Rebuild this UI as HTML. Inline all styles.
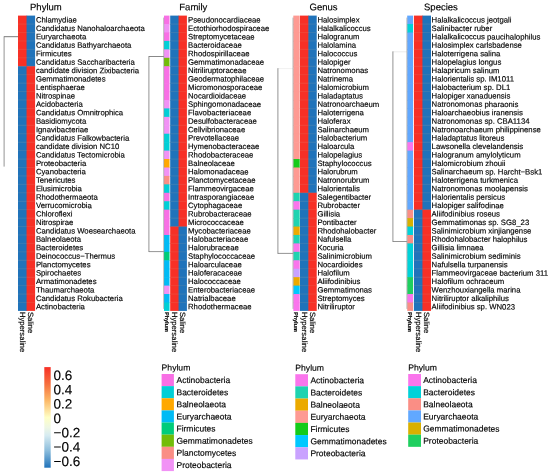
<!DOCTYPE html>
<html><head><meta charset="utf-8"><title>Heatmap</title>
<style>
html,body{margin:0;padding:0;background:#fff}
svg{display:block;font-family:"Liberation Sans",Arial,Helvetica,sans-serif;fill:#000}
text{stroke:#000;stroke-width:0.15px;text-rendering:geometricPrecision}
</style></head><body>
<svg width="550" height="473" viewBox="0 0 550 473">
<defs><linearGradient id="g" x1="0" y1="0" x2="0" y2="1">
<stop offset="0" stop-color="#F73026"/><stop offset="0.17" stop-color="#F6703E"/><stop offset="0.33" stop-color="#FCB866"/><stop offset="0.5" stop-color="#FFFFC6"/><stop offset="0.6" stop-color="#EEF7E4"/><stop offset="0.68" stop-color="#D6EBF1"/><stop offset="0.83" stop-color="#8CBDDC"/><stop offset="1" stop-color="#2073BA"/>
</linearGradient></defs>
<rect x="0" y="0" width="550" height="473" fill="#fff"/>
<text transform="translate(30.00 10.20) rotate(0.04)" font-size="9.52" >Phylum</text>
<rect x="18.00" y="15.60" width="9.15" height="9.04" fill="#F73026"/>
<rect x="26.55" y="15.60" width="8.55" height="9.04" fill="#2073BA"/>
<text transform="translate(35.90 22.47) rotate(0.04)" font-size="7.74" >Chlamydiae</text>
<rect x="18.00" y="24.04" width="9.15" height="9.04" fill="#F73026"/>
<rect x="26.55" y="24.04" width="8.55" height="9.04" fill="#2073BA"/>
<text transform="translate(35.90 30.91) rotate(0.04)" font-size="7.74" >Candidatus Nanohaloarchaeota</text>
<rect x="18.00" y="32.47" width="9.15" height="9.04" fill="#F73026"/>
<rect x="26.55" y="32.47" width="8.55" height="9.04" fill="#2073BA"/>
<text transform="translate(35.90 39.34) rotate(0.04)" font-size="7.74" >Euryarchaeota</text>
<rect x="18.00" y="40.91" width="9.15" height="9.04" fill="#F73026"/>
<rect x="26.55" y="40.91" width="8.55" height="9.04" fill="#2073BA"/>
<text transform="translate(35.90 47.78) rotate(0.04)" font-size="7.74" >Candidatus Bathyarchaeota</text>
<rect x="18.00" y="49.35" width="9.15" height="9.04" fill="#F73026"/>
<rect x="26.55" y="49.35" width="8.55" height="9.04" fill="#2073BA"/>
<text transform="translate(35.90 56.22) rotate(0.04)" font-size="7.74" >Firmicutes</text>
<rect x="18.00" y="57.79" width="9.15" height="9.04" fill="#F73026"/>
<rect x="26.55" y="57.79" width="8.55" height="9.04" fill="#2073BA"/>
<text transform="translate(35.90 64.65) rotate(0.04)" font-size="7.74" >Candidatus Saccharibacteria</text>
<rect x="18.00" y="66.22" width="9.15" height="9.04" fill="#2073BA"/>
<rect x="26.55" y="66.22" width="8.55" height="9.04" fill="#F73026"/>
<text transform="translate(35.90 73.09) rotate(0.04)" font-size="7.74" >candidate division Zixibacteria</text>
<rect x="18.00" y="74.66" width="9.15" height="9.04" fill="#2073BA"/>
<rect x="26.55" y="74.66" width="8.55" height="9.04" fill="#F73026"/>
<text transform="translate(35.90 81.53) rotate(0.04)" font-size="7.74" >Gemmatimonadetes</text>
<rect x="18.00" y="83.10" width="9.15" height="9.04" fill="#2073BA"/>
<rect x="26.55" y="83.10" width="8.55" height="9.04" fill="#F73026"/>
<text transform="translate(35.90 89.97) rotate(0.04)" font-size="7.74" >Lentisphaerae</text>
<rect x="18.00" y="91.53" width="9.15" height="9.04" fill="#2073BA"/>
<rect x="26.55" y="91.53" width="8.55" height="9.04" fill="#F73026"/>
<text transform="translate(35.90 98.40) rotate(0.04)" font-size="7.74" >Nitrospinae</text>
<rect x="18.00" y="99.97" width="9.15" height="9.04" fill="#2073BA"/>
<rect x="26.55" y="99.97" width="8.55" height="9.04" fill="#F73026"/>
<text transform="translate(35.90 106.84) rotate(0.04)" font-size="7.74" >Acidobacteria</text>
<rect x="18.00" y="108.41" width="9.15" height="9.04" fill="#2073BA"/>
<rect x="26.55" y="108.41" width="8.55" height="9.04" fill="#F73026"/>
<text transform="translate(35.90 115.28) rotate(0.04)" font-size="7.74" >Candidatus Omnitrophica</text>
<rect x="18.00" y="116.85" width="9.15" height="9.04" fill="#2073BA"/>
<rect x="26.55" y="116.85" width="8.55" height="9.04" fill="#F73026"/>
<text transform="translate(35.90 123.71) rotate(0.04)" font-size="7.74" >Basidiomycota</text>
<rect x="18.00" y="125.28" width="9.15" height="9.04" fill="#2073BA"/>
<rect x="26.55" y="125.28" width="8.55" height="9.04" fill="#F73026"/>
<text transform="translate(35.90 132.15) rotate(0.04)" font-size="7.74" >Ignavibacteriae</text>
<rect x="18.00" y="133.72" width="9.15" height="9.04" fill="#2073BA"/>
<rect x="26.55" y="133.72" width="8.55" height="9.04" fill="#F73026"/>
<text transform="translate(35.90 140.59) rotate(0.04)" font-size="7.74" >Candidatus Falkowbacteria</text>
<rect x="18.00" y="142.16" width="9.15" height="9.04" fill="#2073BA"/>
<rect x="26.55" y="142.16" width="8.55" height="9.04" fill="#F73026"/>
<text transform="translate(35.90 149.03) rotate(0.04)" font-size="7.74" >candidate division NC10</text>
<rect x="18.00" y="150.59" width="9.15" height="9.04" fill="#2073BA"/>
<rect x="26.55" y="150.59" width="8.55" height="9.04" fill="#F73026"/>
<text transform="translate(35.90 157.46) rotate(0.04)" font-size="7.74" >Candidatus Tectomicrobia</text>
<rect x="18.00" y="159.03" width="9.15" height="9.04" fill="#2073BA"/>
<rect x="26.55" y="159.03" width="8.55" height="9.04" fill="#F73026"/>
<text transform="translate(35.90 165.90) rotate(0.04)" font-size="7.74" >Proteobacteria</text>
<rect x="18.00" y="167.47" width="9.15" height="9.04" fill="#2073BA"/>
<rect x="26.55" y="167.47" width="8.55" height="9.04" fill="#F73026"/>
<text transform="translate(35.90 174.34) rotate(0.04)" font-size="7.74" >Cyanobacteria</text>
<rect x="18.00" y="175.91" width="9.15" height="9.04" fill="#2073BA"/>
<rect x="26.55" y="175.91" width="8.55" height="9.04" fill="#F73026"/>
<text transform="translate(35.90 182.77) rotate(0.04)" font-size="7.74" >Tenericutes</text>
<rect x="18.00" y="184.34" width="9.15" height="9.04" fill="#2073BA"/>
<rect x="26.55" y="184.34" width="8.55" height="9.04" fill="#F73026"/>
<text transform="translate(35.90 191.21) rotate(0.04)" font-size="7.74" >Elusimicrobia</text>
<rect x="18.00" y="192.78" width="9.15" height="9.04" fill="#2073BA"/>
<rect x="26.55" y="192.78" width="8.55" height="9.04" fill="#F73026"/>
<text transform="translate(35.90 199.65) rotate(0.04)" font-size="7.74" >Rhodothermaeota</text>
<rect x="18.00" y="201.22" width="9.15" height="9.04" fill="#2073BA"/>
<rect x="26.55" y="201.22" width="8.55" height="9.04" fill="#F73026"/>
<text transform="translate(35.90 208.09) rotate(0.04)" font-size="7.74" >Verrucomicrobia</text>
<rect x="18.00" y="209.65" width="9.15" height="9.04" fill="#2073BA"/>
<rect x="26.55" y="209.65" width="8.55" height="9.04" fill="#F73026"/>
<text transform="translate(35.90 216.52) rotate(0.04)" font-size="7.74" >Chloroflexi</text>
<rect x="18.00" y="218.09" width="9.15" height="9.04" fill="#2073BA"/>
<rect x="26.55" y="218.09" width="8.55" height="9.04" fill="#F73026"/>
<text transform="translate(35.90 224.96) rotate(0.04)" font-size="7.74" >Nitrospirae</text>
<rect x="18.00" y="226.53" width="9.15" height="9.04" fill="#2073BA"/>
<rect x="26.55" y="226.53" width="8.55" height="9.04" fill="#F73026"/>
<text transform="translate(35.90 233.40) rotate(0.04)" font-size="7.74" >Candidatus Woesearchaeota</text>
<rect x="18.00" y="234.97" width="9.15" height="9.04" fill="#2073BA"/>
<rect x="26.55" y="234.97" width="8.55" height="9.04" fill="#F73026"/>
<text transform="translate(35.90 241.83) rotate(0.04)" font-size="7.74" >Balneolaeota</text>
<rect x="18.00" y="243.40" width="9.15" height="9.04" fill="#2073BA"/>
<rect x="26.55" y="243.40" width="8.55" height="9.04" fill="#F73026"/>
<text transform="translate(35.90 250.27) rotate(0.04)" font-size="7.74" >Bacteroidetes</text>
<rect x="18.00" y="251.84" width="9.15" height="9.04" fill="#2073BA"/>
<rect x="26.55" y="251.84" width="8.55" height="9.04" fill="#F73026"/>
<text transform="translate(35.90 258.71) rotate(0.04)" font-size="7.74" >Deinococcus−Thermus</text>
<rect x="18.00" y="260.28" width="9.15" height="9.04" fill="#2073BA"/>
<rect x="26.55" y="260.28" width="8.55" height="9.04" fill="#F73026"/>
<text transform="translate(35.90 267.15) rotate(0.04)" font-size="7.74" >Planctomycetes</text>
<rect x="18.00" y="268.71" width="9.15" height="9.04" fill="#2073BA"/>
<rect x="26.55" y="268.71" width="8.55" height="9.04" fill="#F73026"/>
<text transform="translate(35.90 275.58) rotate(0.04)" font-size="7.74" >Spirochaetes</text>
<rect x="18.00" y="277.15" width="9.15" height="9.04" fill="#2073BA"/>
<rect x="26.55" y="277.15" width="8.55" height="9.04" fill="#F73026"/>
<text transform="translate(35.90 284.02) rotate(0.04)" font-size="7.74" >Armatimonadetes</text>
<rect x="18.00" y="285.59" width="9.15" height="9.04" fill="#2073BA"/>
<rect x="26.55" y="285.59" width="8.55" height="9.04" fill="#F73026"/>
<text transform="translate(35.90 292.46) rotate(0.04)" font-size="7.74" >Thaumarchaeota</text>
<rect x="18.00" y="294.03" width="9.15" height="9.04" fill="#2073BA"/>
<rect x="26.55" y="294.03" width="8.55" height="9.04" fill="#F73026"/>
<text transform="translate(35.90 300.89) rotate(0.04)" font-size="7.74" >Candidatus Rokubacteria</text>
<rect x="18.00" y="302.46" width="9.15" height="8.44" fill="#2073BA"/>
<rect x="26.55" y="302.46" width="8.55" height="8.44" fill="#F73026"/>
<text transform="translate(35.90 309.33) rotate(0.04)" font-size="7.74" >Actinobacteria</text>
<path d="M18.00 24.04h17.10" stroke="#c9b796" stroke-opacity="0.3" stroke-width="0.5" fill="none"/>
<path d="M18.00 32.47h17.10" stroke="#c9b796" stroke-opacity="0.3" stroke-width="0.5" fill="none"/>
<path d="M18.00 40.91h17.10" stroke="#c9b796" stroke-opacity="0.3" stroke-width="0.5" fill="none"/>
<path d="M18.00 49.35h17.10" stroke="#c9b796" stroke-opacity="0.3" stroke-width="0.5" fill="none"/>
<path d="M18.00 57.79h17.10" stroke="#c9b796" stroke-opacity="0.3" stroke-width="0.5" fill="none"/>
<path d="M18.00 66.22h17.10" stroke="#c9b796" stroke-opacity="0.3" stroke-width="0.5" fill="none"/>
<path d="M18.00 74.66h17.10" stroke="#c9b796" stroke-opacity="0.3" stroke-width="0.5" fill="none"/>
<path d="M18.00 83.10h17.10" stroke="#c9b796" stroke-opacity="0.3" stroke-width="0.5" fill="none"/>
<path d="M18.00 91.53h17.10" stroke="#c9b796" stroke-opacity="0.3" stroke-width="0.5" fill="none"/>
<path d="M18.00 99.97h17.10" stroke="#c9b796" stroke-opacity="0.3" stroke-width="0.5" fill="none"/>
<path d="M18.00 108.41h17.10" stroke="#c9b796" stroke-opacity="0.3" stroke-width="0.5" fill="none"/>
<path d="M18.00 116.85h17.10" stroke="#c9b796" stroke-opacity="0.3" stroke-width="0.5" fill="none"/>
<path d="M18.00 125.28h17.10" stroke="#c9b796" stroke-opacity="0.3" stroke-width="0.5" fill="none"/>
<path d="M18.00 133.72h17.10" stroke="#c9b796" stroke-opacity="0.3" stroke-width="0.5" fill="none"/>
<path d="M18.00 142.16h17.10" stroke="#c9b796" stroke-opacity="0.3" stroke-width="0.5" fill="none"/>
<path d="M18.00 150.59h17.10" stroke="#c9b796" stroke-opacity="0.3" stroke-width="0.5" fill="none"/>
<path d="M18.00 159.03h17.10" stroke="#c9b796" stroke-opacity="0.3" stroke-width="0.5" fill="none"/>
<path d="M18.00 167.47h17.10" stroke="#c9b796" stroke-opacity="0.3" stroke-width="0.5" fill="none"/>
<path d="M18.00 175.91h17.10" stroke="#c9b796" stroke-opacity="0.3" stroke-width="0.5" fill="none"/>
<path d="M18.00 184.34h17.10" stroke="#c9b796" stroke-opacity="0.3" stroke-width="0.5" fill="none"/>
<path d="M18.00 192.78h17.10" stroke="#c9b796" stroke-opacity="0.3" stroke-width="0.5" fill="none"/>
<path d="M18.00 201.22h17.10" stroke="#c9b796" stroke-opacity="0.3" stroke-width="0.5" fill="none"/>
<path d="M18.00 209.65h17.10" stroke="#c9b796" stroke-opacity="0.3" stroke-width="0.5" fill="none"/>
<path d="M18.00 218.09h17.10" stroke="#c9b796" stroke-opacity="0.3" stroke-width="0.5" fill="none"/>
<path d="M18.00 226.53h17.10" stroke="#c9b796" stroke-opacity="0.3" stroke-width="0.5" fill="none"/>
<path d="M18.00 234.97h17.10" stroke="#c9b796" stroke-opacity="0.3" stroke-width="0.5" fill="none"/>
<path d="M18.00 243.40h17.10" stroke="#c9b796" stroke-opacity="0.3" stroke-width="0.5" fill="none"/>
<path d="M18.00 251.84h17.10" stroke="#c9b796" stroke-opacity="0.3" stroke-width="0.5" fill="none"/>
<path d="M18.00 260.28h17.10" stroke="#c9b796" stroke-opacity="0.3" stroke-width="0.5" fill="none"/>
<path d="M18.00 268.71h17.10" stroke="#c9b796" stroke-opacity="0.3" stroke-width="0.5" fill="none"/>
<path d="M18.00 277.15h17.10" stroke="#c9b796" stroke-opacity="0.3" stroke-width="0.5" fill="none"/>
<path d="M18.00 285.59h17.10" stroke="#c9b796" stroke-opacity="0.3" stroke-width="0.5" fill="none"/>
<path d="M18.00 294.03h17.10" stroke="#c9b796" stroke-opacity="0.3" stroke-width="0.5" fill="none"/>
<path d="M18.00 302.46h17.10" stroke="#c9b796" stroke-opacity="0.3" stroke-width="0.5" fill="none"/>
<text transform="translate(19.60 311.95) rotate(90)" font-size="7.66" >Hypersaline</text>
<text transform="translate(28.15 311.95) rotate(90)" font-size="7.66" >Saline</text>
<path d="M4.10 36.70L18.00 36.70" stroke="#555" stroke-width="0.8" fill="none"/>
<path d="M4.10 36.30L4.10 166.60" stroke="#787878" stroke-width="0.8" fill="none"/>
<text transform="translate(179.30 10.20) rotate(0.04)" font-size="9.52" >Family</text>
<rect x="170.20" y="15.60" width="8.95" height="9.04" fill="#2073BA"/>
<rect x="178.55" y="15.60" width="8.35" height="9.04" fill="#F73026"/>
<rect x="164.00" y="15.60" width="5.50" height="9.04" fill="#F870E5"/>
<text transform="translate(188.00 22.47) rotate(0.04)" font-size="7.74" >Pseudonocardiaceae</text>
<rect x="170.20" y="24.04" width="8.95" height="9.04" fill="#2073BA"/>
<rect x="178.55" y="24.04" width="8.35" height="9.04" fill="#F73026"/>
<rect x="164.00" y="24.04" width="5.50" height="9.04" fill="#F192F5"/>
<text transform="translate(188.00 30.91) rotate(0.04)" font-size="7.74" >Ectothiorhodospiraceae</text>
<rect x="170.20" y="32.47" width="8.95" height="9.04" fill="#2073BA"/>
<rect x="178.55" y="32.47" width="8.35" height="9.04" fill="#F73026"/>
<rect x="164.00" y="32.47" width="5.50" height="9.04" fill="#F870E5"/>
<text transform="translate(188.00 39.34) rotate(0.04)" font-size="7.74" >Streptomycetaceae</text>
<rect x="170.20" y="40.91" width="8.95" height="9.04" fill="#2073BA"/>
<rect x="178.55" y="40.91" width="8.35" height="9.04" fill="#F73026"/>
<rect x="164.00" y="40.91" width="5.50" height="9.04" fill="#00CFD6"/>
<text transform="translate(188.00 47.78) rotate(0.04)" font-size="7.74" >Bacteroidaceae</text>
<rect x="170.20" y="49.35" width="8.95" height="9.04" fill="#2073BA"/>
<rect x="178.55" y="49.35" width="8.35" height="9.04" fill="#F73026"/>
<rect x="164.00" y="49.35" width="5.50" height="9.04" fill="#F192F5"/>
<text transform="translate(188.00 56.22) rotate(0.04)" font-size="7.74" >Rhodospirillaceae</text>
<rect x="170.20" y="57.79" width="8.95" height="9.04" fill="#2073BA"/>
<rect x="178.55" y="57.79" width="8.35" height="9.04" fill="#F73026"/>
<rect x="164.00" y="57.79" width="5.50" height="9.04" fill="#72BC08"/>
<text transform="translate(188.00 64.65) rotate(0.04)" font-size="7.74" >Gemmatimonadaceae</text>
<rect x="170.20" y="66.22" width="8.95" height="9.04" fill="#2073BA"/>
<rect x="178.55" y="66.22" width="8.35" height="9.04" fill="#F73026"/>
<rect x="164.00" y="66.22" width="5.50" height="9.04" fill="#F870E5"/>
<text transform="translate(188.00 73.09) rotate(0.04)" font-size="7.74" >Nitriliruptoraceae</text>
<rect x="170.20" y="74.66" width="8.95" height="9.04" fill="#2073BA"/>
<rect x="178.55" y="74.66" width="8.35" height="9.04" fill="#F73026"/>
<rect x="164.00" y="74.66" width="5.50" height="9.04" fill="#F870E5"/>
<text transform="translate(188.00 81.53) rotate(0.04)" font-size="7.74" >Geodermatophilaceae</text>
<rect x="170.20" y="83.10" width="8.95" height="9.04" fill="#2073BA"/>
<rect x="178.55" y="83.10" width="8.35" height="9.04" fill="#F73026"/>
<rect x="164.00" y="83.10" width="5.50" height="9.04" fill="#F870E5"/>
<text transform="translate(188.00 89.97) rotate(0.04)" font-size="7.74" >Micromonosporaceae</text>
<rect x="170.20" y="91.53" width="8.95" height="9.04" fill="#2073BA"/>
<rect x="178.55" y="91.53" width="8.35" height="9.04" fill="#F73026"/>
<rect x="164.00" y="91.53" width="5.50" height="9.04" fill="#F870E5"/>
<text transform="translate(188.00 98.40) rotate(0.04)" font-size="7.74" >Nocardioidaceae</text>
<rect x="170.20" y="99.97" width="8.95" height="9.04" fill="#2073BA"/>
<rect x="178.55" y="99.97" width="8.35" height="9.04" fill="#F73026"/>
<rect x="164.00" y="99.97" width="5.50" height="9.04" fill="#F192F5"/>
<text transform="translate(188.00 106.84) rotate(0.04)" font-size="7.74" >Sphingomonadaceae</text>
<rect x="170.20" y="108.41" width="8.95" height="9.04" fill="#2073BA"/>
<rect x="178.55" y="108.41" width="8.35" height="9.04" fill="#F73026"/>
<rect x="164.00" y="108.41" width="5.50" height="9.04" fill="#00CFD6"/>
<text transform="translate(188.00 115.28) rotate(0.04)" font-size="7.74" >Flavobacteriaceae</text>
<rect x="170.20" y="116.85" width="8.95" height="9.04" fill="#2073BA"/>
<rect x="178.55" y="116.85" width="8.35" height="9.04" fill="#F73026"/>
<rect x="164.00" y="116.85" width="5.50" height="9.04" fill="#F192F5"/>
<text transform="translate(188.00 123.71) rotate(0.04)" font-size="7.74" >Desulfobacteraceae</text>
<rect x="170.20" y="125.28" width="8.95" height="9.04" fill="#2073BA"/>
<rect x="178.55" y="125.28" width="8.35" height="9.04" fill="#F73026"/>
<rect x="164.00" y="125.28" width="5.50" height="9.04" fill="#F192F5"/>
<text transform="translate(188.00 132.15) rotate(0.04)" font-size="7.74" >Cellvibrionaceae</text>
<rect x="170.20" y="133.72" width="8.95" height="9.04" fill="#2073BA"/>
<rect x="178.55" y="133.72" width="8.35" height="9.04" fill="#F73026"/>
<rect x="164.00" y="133.72" width="5.50" height="9.04" fill="#00CFD6"/>
<text transform="translate(188.00 140.59) rotate(0.04)" font-size="7.74" >Prevotellaceae</text>
<rect x="170.20" y="142.16" width="8.95" height="9.04" fill="#2073BA"/>
<rect x="178.55" y="142.16" width="8.35" height="9.04" fill="#F73026"/>
<rect x="164.00" y="142.16" width="5.50" height="9.04" fill="#00CFD6"/>
<text transform="translate(188.00 149.03) rotate(0.04)" font-size="7.74" >Hymenobacteraceae</text>
<rect x="170.20" y="150.59" width="8.95" height="9.04" fill="#2073BA"/>
<rect x="178.55" y="150.59" width="8.35" height="9.04" fill="#F73026"/>
<rect x="164.00" y="150.59" width="5.50" height="9.04" fill="#F192F5"/>
<text transform="translate(188.00 157.46) rotate(0.04)" font-size="7.74" >Rhodobacteraceae</text>
<rect x="170.20" y="159.03" width="8.95" height="9.04" fill="#2073BA"/>
<rect x="178.55" y="159.03" width="8.35" height="9.04" fill="#F73026"/>
<rect x="164.00" y="159.03" width="5.50" height="9.04" fill="#FFA800"/>
<text transform="translate(188.00 165.90) rotate(0.04)" font-size="7.74" >Balneolaceae</text>
<rect x="170.20" y="167.47" width="8.95" height="9.04" fill="#2073BA"/>
<rect x="178.55" y="167.47" width="8.35" height="9.04" fill="#F73026"/>
<rect x="164.00" y="167.47" width="5.50" height="9.04" fill="#F192F5"/>
<text transform="translate(188.00 174.34) rotate(0.04)" font-size="7.74" >Halomonadaceae</text>
<rect x="170.20" y="175.91" width="8.95" height="9.04" fill="#2073BA"/>
<rect x="178.55" y="175.91" width="8.35" height="9.04" fill="#F73026"/>
<rect x="164.00" y="175.91" width="5.50" height="9.04" fill="#FA8E85"/>
<text transform="translate(188.00 182.77) rotate(0.04)" font-size="7.74" >Planctomycetaceae</text>
<rect x="170.20" y="184.34" width="8.95" height="9.04" fill="#2073BA"/>
<rect x="178.55" y="184.34" width="8.35" height="9.04" fill="#F73026"/>
<rect x="164.00" y="184.34" width="5.50" height="9.04" fill="#00CFD6"/>
<text transform="translate(188.00 191.21) rotate(0.04)" font-size="7.74" >Flammeovirgaceae</text>
<rect x="170.20" y="192.78" width="8.95" height="9.04" fill="#2073BA"/>
<rect x="178.55" y="192.78" width="8.35" height="9.04" fill="#F73026"/>
<rect x="164.00" y="192.78" width="5.50" height="9.04" fill="#F870E5"/>
<text transform="translate(188.00 199.65) rotate(0.04)" font-size="7.74" >Intrasporangiaceae</text>
<rect x="170.20" y="201.22" width="8.95" height="9.04" fill="#2073BA"/>
<rect x="178.55" y="201.22" width="8.35" height="9.04" fill="#F73026"/>
<rect x="164.00" y="201.22" width="5.50" height="9.04" fill="#00CFD6"/>
<text transform="translate(188.00 208.09) rotate(0.04)" font-size="7.74" >Cytophagaceae</text>
<rect x="170.20" y="209.65" width="8.95" height="9.04" fill="#2073BA"/>
<rect x="178.55" y="209.65" width="8.35" height="9.04" fill="#F73026"/>
<rect x="164.00" y="209.65" width="5.50" height="9.04" fill="#F870E5"/>
<text transform="translate(188.00 216.52) rotate(0.04)" font-size="7.74" >Rubrobacteraceae</text>
<rect x="170.20" y="218.09" width="8.95" height="9.04" fill="#2073BA"/>
<rect x="178.55" y="218.09" width="8.35" height="9.04" fill="#F73026"/>
<rect x="164.00" y="218.09" width="5.50" height="9.04" fill="#F870E5"/>
<text transform="translate(188.00 224.96) rotate(0.04)" font-size="7.74" >Micrococcaceae</text>
<rect x="170.20" y="226.53" width="8.95" height="9.04" fill="#F73026"/>
<rect x="178.55" y="226.53" width="8.35" height="9.04" fill="#2073BA"/>
<rect x="164.00" y="226.53" width="5.50" height="9.04" fill="#F870E5"/>
<text transform="translate(188.00 233.40) rotate(0.04)" font-size="7.74" >Mycobacteriaceae</text>
<rect x="170.20" y="234.97" width="8.95" height="9.04" fill="#F73026"/>
<rect x="178.55" y="234.97" width="8.35" height="9.04" fill="#2073BA"/>
<rect x="164.00" y="234.97" width="5.50" height="9.04" fill="#00BBF5"/>
<text transform="translate(188.00 241.83) rotate(0.04)" font-size="7.74" >Halobacteriaceae</text>
<rect x="170.20" y="243.40" width="8.95" height="9.04" fill="#F73026"/>
<rect x="178.55" y="243.40" width="8.35" height="9.04" fill="#2073BA"/>
<rect x="164.00" y="243.40" width="5.50" height="9.04" fill="#00BBF5"/>
<text transform="translate(188.00 250.27) rotate(0.04)" font-size="7.74" >Halorubraceae</text>
<rect x="170.20" y="251.84" width="8.95" height="9.04" fill="#F73026"/>
<rect x="178.55" y="251.84" width="8.35" height="9.04" fill="#2073BA"/>
<rect x="164.00" y="251.84" width="5.50" height="9.04" fill="#00CC7A"/>
<text transform="translate(188.00 258.71) rotate(0.04)" font-size="7.74" >Staphylococcaceae</text>
<rect x="170.20" y="260.28" width="8.95" height="9.04" fill="#F73026"/>
<rect x="178.55" y="260.28" width="8.35" height="9.04" fill="#2073BA"/>
<rect x="164.00" y="260.28" width="5.50" height="9.04" fill="#00BBF5"/>
<text transform="translate(188.00 267.15) rotate(0.04)" font-size="7.74" >Haloarculaceae</text>
<rect x="170.20" y="268.71" width="8.95" height="9.04" fill="#F73026"/>
<rect x="178.55" y="268.71" width="8.35" height="9.04" fill="#2073BA"/>
<rect x="164.00" y="268.71" width="5.50" height="9.04" fill="#00BBF5"/>
<text transform="translate(188.00 275.58) rotate(0.04)" font-size="7.74" >Haloferacaceae</text>
<rect x="170.20" y="277.15" width="8.95" height="9.04" fill="#F73026"/>
<rect x="178.55" y="277.15" width="8.35" height="9.04" fill="#2073BA"/>
<rect x="164.00" y="277.15" width="5.50" height="9.04" fill="#00BBF5"/>
<text transform="translate(188.00 284.02) rotate(0.04)" font-size="7.74" >Halococcaceae</text>
<rect x="170.20" y="285.59" width="8.95" height="9.04" fill="#F73026"/>
<rect x="178.55" y="285.59" width="8.35" height="9.04" fill="#2073BA"/>
<rect x="164.00" y="285.59" width="5.50" height="9.04" fill="#F192F5"/>
<text transform="translate(188.00 292.46) rotate(0.04)" font-size="7.74" >Enterobacteriaceae</text>
<rect x="170.20" y="294.03" width="8.95" height="9.04" fill="#F73026"/>
<rect x="178.55" y="294.03" width="8.35" height="9.04" fill="#2073BA"/>
<rect x="164.00" y="294.03" width="5.50" height="9.04" fill="#00BBF5"/>
<text transform="translate(188.00 300.89) rotate(0.04)" font-size="7.74" >Natrialbaceae</text>
<rect x="170.20" y="302.46" width="8.95" height="8.44" fill="#F73026"/>
<rect x="178.55" y="302.46" width="8.35" height="8.44" fill="#2073BA"/>
<rect x="164.00" y="302.46" width="5.50" height="8.44" fill="#00CFD6"/>
<text transform="translate(188.00 309.33) rotate(0.04)" font-size="7.74" >Rhodothermaceae</text>
<path d="M170.20 24.04h16.70" stroke="#c9b796" stroke-opacity="0.3" stroke-width="0.5" fill="none"/>
<path d="M170.20 32.47h16.70" stroke="#c9b796" stroke-opacity="0.3" stroke-width="0.5" fill="none"/>
<path d="M170.20 40.91h16.70" stroke="#c9b796" stroke-opacity="0.3" stroke-width="0.5" fill="none"/>
<path d="M170.20 49.35h16.70" stroke="#c9b796" stroke-opacity="0.3" stroke-width="0.5" fill="none"/>
<path d="M170.20 57.79h16.70" stroke="#c9b796" stroke-opacity="0.3" stroke-width="0.5" fill="none"/>
<path d="M170.20 66.22h16.70" stroke="#c9b796" stroke-opacity="0.3" stroke-width="0.5" fill="none"/>
<path d="M170.20 74.66h16.70" stroke="#c9b796" stroke-opacity="0.3" stroke-width="0.5" fill="none"/>
<path d="M170.20 83.10h16.70" stroke="#c9b796" stroke-opacity="0.3" stroke-width="0.5" fill="none"/>
<path d="M170.20 91.53h16.70" stroke="#c9b796" stroke-opacity="0.3" stroke-width="0.5" fill="none"/>
<path d="M170.20 99.97h16.70" stroke="#c9b796" stroke-opacity="0.3" stroke-width="0.5" fill="none"/>
<path d="M170.20 108.41h16.70" stroke="#c9b796" stroke-opacity="0.3" stroke-width="0.5" fill="none"/>
<path d="M170.20 116.85h16.70" stroke="#c9b796" stroke-opacity="0.3" stroke-width="0.5" fill="none"/>
<path d="M170.20 125.28h16.70" stroke="#c9b796" stroke-opacity="0.3" stroke-width="0.5" fill="none"/>
<path d="M170.20 133.72h16.70" stroke="#c9b796" stroke-opacity="0.3" stroke-width="0.5" fill="none"/>
<path d="M170.20 142.16h16.70" stroke="#c9b796" stroke-opacity="0.3" stroke-width="0.5" fill="none"/>
<path d="M170.20 150.59h16.70" stroke="#c9b796" stroke-opacity="0.3" stroke-width="0.5" fill="none"/>
<path d="M170.20 159.03h16.70" stroke="#c9b796" stroke-opacity="0.3" stroke-width="0.5" fill="none"/>
<path d="M170.20 167.47h16.70" stroke="#c9b796" stroke-opacity="0.3" stroke-width="0.5" fill="none"/>
<path d="M170.20 175.91h16.70" stroke="#c9b796" stroke-opacity="0.3" stroke-width="0.5" fill="none"/>
<path d="M170.20 184.34h16.70" stroke="#c9b796" stroke-opacity="0.3" stroke-width="0.5" fill="none"/>
<path d="M170.20 192.78h16.70" stroke="#c9b796" stroke-opacity="0.3" stroke-width="0.5" fill="none"/>
<path d="M170.20 201.22h16.70" stroke="#c9b796" stroke-opacity="0.3" stroke-width="0.5" fill="none"/>
<path d="M170.20 209.65h16.70" stroke="#c9b796" stroke-opacity="0.3" stroke-width="0.5" fill="none"/>
<path d="M170.20 218.09h16.70" stroke="#c9b796" stroke-opacity="0.3" stroke-width="0.5" fill="none"/>
<path d="M170.20 226.53h16.70" stroke="#c9b796" stroke-opacity="0.3" stroke-width="0.5" fill="none"/>
<path d="M170.20 234.97h16.70" stroke="#c9b796" stroke-opacity="0.3" stroke-width="0.5" fill="none"/>
<path d="M170.20 243.40h16.70" stroke="#c9b796" stroke-opacity="0.3" stroke-width="0.5" fill="none"/>
<path d="M170.20 251.84h16.70" stroke="#c9b796" stroke-opacity="0.3" stroke-width="0.5" fill="none"/>
<path d="M170.20 260.28h16.70" stroke="#c9b796" stroke-opacity="0.3" stroke-width="0.5" fill="none"/>
<path d="M170.20 268.71h16.70" stroke="#c9b796" stroke-opacity="0.3" stroke-width="0.5" fill="none"/>
<path d="M170.20 277.15h16.70" stroke="#c9b796" stroke-opacity="0.3" stroke-width="0.5" fill="none"/>
<path d="M170.20 285.59h16.70" stroke="#c9b796" stroke-opacity="0.3" stroke-width="0.5" fill="none"/>
<path d="M170.20 294.03h16.70" stroke="#c9b796" stroke-opacity="0.3" stroke-width="0.5" fill="none"/>
<path d="M170.20 302.46h16.70" stroke="#c9b796" stroke-opacity="0.3" stroke-width="0.5" fill="none"/>
<text transform="translate(171.80 311.95) rotate(90)" font-size="7.66" >Hypersaline</text>
<text transform="translate(180.15 311.95) rotate(90)" font-size="7.66" >Saline</text>
<text transform="translate(164.70 311.95) rotate(90)" font-size="5.55" font-weight="bold">Phylum</text>
<path d="M148.90 56.50L164.00 56.50" stroke="#6a6a6a" stroke-width="0.8" fill="none"/>
<path d="M148.90 56.10L148.90 252.00" stroke="#787878" stroke-width="0.8" fill="none"/>
<path d="M148.90 251.60L164.00 251.60" stroke="#787878" stroke-width="0.8" fill="none"/>
<path d="M163.70 17.60L163.70 308.90" stroke="#9a9a9a" stroke-width="0.7" fill="none"/>
<text transform="translate(309.50 10.20) rotate(0.04)" font-size="9.52" >Genus</text>
<rect x="300.00" y="15.60" width="8.95" height="9.04" fill="#F73026"/>
<rect x="308.35" y="15.60" width="8.35" height="9.04" fill="#2073BA"/>
<rect x="293.30" y="15.60" width="6.40" height="9.04" fill="#FE9A93"/>
<text transform="translate(317.40 22.47) rotate(0.04)" font-size="7.74" >Halosimplex</text>
<rect x="300.00" y="24.04" width="8.95" height="9.04" fill="#F73026"/>
<rect x="308.35" y="24.04" width="8.35" height="9.04" fill="#2073BA"/>
<rect x="293.30" y="24.04" width="6.40" height="9.04" fill="#FE9A93"/>
<text transform="translate(317.40 30.91) rotate(0.04)" font-size="7.74" >Halalkalicoccus</text>
<rect x="300.00" y="32.47" width="8.95" height="9.04" fill="#F73026"/>
<rect x="308.35" y="32.47" width="8.35" height="9.04" fill="#2073BA"/>
<rect x="293.30" y="32.47" width="6.40" height="9.04" fill="#FE9A93"/>
<text transform="translate(317.40 39.34) rotate(0.04)" font-size="7.74" >Halogranum</text>
<rect x="300.00" y="40.91" width="8.95" height="9.04" fill="#F73026"/>
<rect x="308.35" y="40.91" width="8.35" height="9.04" fill="#2073BA"/>
<rect x="293.30" y="40.91" width="6.40" height="9.04" fill="#FE9A93"/>
<text transform="translate(317.40 47.78) rotate(0.04)" font-size="7.74" >Halolamina</text>
<rect x="300.00" y="49.35" width="8.95" height="9.04" fill="#F73026"/>
<rect x="308.35" y="49.35" width="8.35" height="9.04" fill="#2073BA"/>
<rect x="293.30" y="49.35" width="6.40" height="9.04" fill="#FE9A93"/>
<text transform="translate(317.40 56.22) rotate(0.04)" font-size="7.74" >Halococcus</text>
<rect x="300.00" y="57.79" width="8.95" height="9.04" fill="#F73026"/>
<rect x="308.35" y="57.79" width="8.35" height="9.04" fill="#2073BA"/>
<rect x="293.30" y="57.79" width="6.40" height="9.04" fill="#FE9A93"/>
<text transform="translate(317.40 64.65) rotate(0.04)" font-size="7.74" >Halopiger</text>
<rect x="300.00" y="66.22" width="8.95" height="9.04" fill="#F73026"/>
<rect x="308.35" y="66.22" width="8.35" height="9.04" fill="#2073BA"/>
<rect x="293.30" y="66.22" width="6.40" height="9.04" fill="#FE9A93"/>
<text transform="translate(317.40 73.09) rotate(0.04)" font-size="7.74" >Natronomonas</text>
<rect x="300.00" y="74.66" width="8.95" height="9.04" fill="#F73026"/>
<rect x="308.35" y="74.66" width="8.35" height="9.04" fill="#2073BA"/>
<rect x="293.30" y="74.66" width="6.40" height="9.04" fill="#FE9A93"/>
<text transform="translate(317.40 81.53) rotate(0.04)" font-size="7.74" >Natrinema</text>
<rect x="300.00" y="83.10" width="8.95" height="9.04" fill="#F73026"/>
<rect x="308.35" y="83.10" width="8.35" height="9.04" fill="#2073BA"/>
<rect x="293.30" y="83.10" width="6.40" height="9.04" fill="#FE9A93"/>
<text transform="translate(317.40 89.97) rotate(0.04)" font-size="7.74" >Halomicrobium</text>
<rect x="300.00" y="91.53" width="8.95" height="9.04" fill="#F73026"/>
<rect x="308.35" y="91.53" width="8.35" height="9.04" fill="#2073BA"/>
<rect x="293.30" y="91.53" width="6.40" height="9.04" fill="#FE9A93"/>
<text transform="translate(317.40 98.40) rotate(0.04)" font-size="7.74" >Haladaptatus</text>
<rect x="300.00" y="99.97" width="8.95" height="9.04" fill="#F73026"/>
<rect x="308.35" y="99.97" width="8.35" height="9.04" fill="#2073BA"/>
<rect x="293.30" y="99.97" width="6.40" height="9.04" fill="#FE9A93"/>
<text transform="translate(317.40 106.84) rotate(0.04)" font-size="7.74" >Natronoarchaeum</text>
<rect x="300.00" y="108.41" width="8.95" height="9.04" fill="#F73026"/>
<rect x="308.35" y="108.41" width="8.35" height="9.04" fill="#2073BA"/>
<rect x="293.30" y="108.41" width="6.40" height="9.04" fill="#FE9A93"/>
<text transform="translate(317.40 115.28) rotate(0.04)" font-size="7.74" >Haloterrigena</text>
<rect x="300.00" y="116.85" width="8.95" height="9.04" fill="#F73026"/>
<rect x="308.35" y="116.85" width="8.35" height="9.04" fill="#2073BA"/>
<rect x="293.30" y="116.85" width="6.40" height="9.04" fill="#FE9A93"/>
<text transform="translate(317.40 123.71) rotate(0.04)" font-size="7.74" >Haloferax</text>
<rect x="300.00" y="125.28" width="8.95" height="9.04" fill="#F73026"/>
<rect x="308.35" y="125.28" width="8.35" height="9.04" fill="#2073BA"/>
<rect x="293.30" y="125.28" width="6.40" height="9.04" fill="#FE9A93"/>
<text transform="translate(317.40 132.15) rotate(0.04)" font-size="7.74" >Salinarchaeum</text>
<rect x="300.00" y="133.72" width="8.95" height="9.04" fill="#F73026"/>
<rect x="308.35" y="133.72" width="8.35" height="9.04" fill="#2073BA"/>
<rect x="293.30" y="133.72" width="6.40" height="9.04" fill="#FE9A93"/>
<text transform="translate(317.40 140.59) rotate(0.04)" font-size="7.74" >Halobacterium</text>
<rect x="300.00" y="142.16" width="8.95" height="9.04" fill="#F73026"/>
<rect x="308.35" y="142.16" width="8.35" height="9.04" fill="#2073BA"/>
<rect x="293.30" y="142.16" width="6.40" height="9.04" fill="#FE9A93"/>
<text transform="translate(317.40 149.03) rotate(0.04)" font-size="7.74" >Haloarcula</text>
<rect x="300.00" y="150.59" width="8.95" height="9.04" fill="#F73026"/>
<rect x="308.35" y="150.59" width="8.35" height="9.04" fill="#2073BA"/>
<rect x="293.30" y="150.59" width="6.40" height="9.04" fill="#FE9A93"/>
<text transform="translate(317.40 157.46) rotate(0.04)" font-size="7.74" >Halopelagius</text>
<rect x="300.00" y="159.03" width="8.95" height="9.04" fill="#F73026"/>
<rect x="308.35" y="159.03" width="8.35" height="9.04" fill="#2073BA"/>
<rect x="293.30" y="159.03" width="6.40" height="9.04" fill="#14CB1A"/>
<text transform="translate(317.40 165.90) rotate(0.04)" font-size="7.74" >Staphylococcus</text>
<rect x="300.00" y="167.47" width="8.95" height="9.04" fill="#F73026"/>
<rect x="308.35" y="167.47" width="8.35" height="9.04" fill="#2073BA"/>
<rect x="293.30" y="167.47" width="6.40" height="9.04" fill="#FE9A93"/>
<text transform="translate(317.40 174.34) rotate(0.04)" font-size="7.74" >Halorubrum</text>
<rect x="300.00" y="175.91" width="8.95" height="9.04" fill="#F73026"/>
<rect x="308.35" y="175.91" width="8.35" height="9.04" fill="#2073BA"/>
<rect x="293.30" y="175.91" width="6.40" height="9.04" fill="#FE9A93"/>
<text transform="translate(317.40 182.77) rotate(0.04)" font-size="7.74" >Natronorubrum</text>
<rect x="300.00" y="184.34" width="8.95" height="9.04" fill="#F73026"/>
<rect x="308.35" y="184.34" width="8.35" height="9.04" fill="#2073BA"/>
<rect x="293.30" y="184.34" width="6.40" height="9.04" fill="#FE9A93"/>
<text transform="translate(317.40 191.21) rotate(0.04)" font-size="7.74" >Halorientalis</text>
<rect x="300.00" y="192.78" width="8.95" height="9.04" fill="#2073BA"/>
<rect x="308.35" y="192.78" width="8.35" height="9.04" fill="#F73026"/>
<rect x="293.30" y="192.78" width="6.40" height="9.04" fill="#1FD3B0"/>
<text transform="translate(317.40 199.65) rotate(0.04)" font-size="7.74" >Salegentibacter</text>
<rect x="300.00" y="201.22" width="8.95" height="9.04" fill="#2073BA"/>
<rect x="308.35" y="201.22" width="8.35" height="9.04" fill="#F73026"/>
<rect x="293.30" y="201.22" width="6.40" height="9.04" fill="#FA75EC"/>
<text transform="translate(317.40 208.09) rotate(0.04)" font-size="7.74" >Rubrobacter</text>
<rect x="300.00" y="209.65" width="8.95" height="9.04" fill="#2073BA"/>
<rect x="308.35" y="209.65" width="8.35" height="9.04" fill="#F73026"/>
<rect x="293.30" y="209.65" width="6.40" height="9.04" fill="#1FD3B0"/>
<text transform="translate(317.40 216.52) rotate(0.04)" font-size="7.74" >Gillisia</text>
<rect x="300.00" y="218.09" width="8.95" height="9.04" fill="#2073BA"/>
<rect x="308.35" y="218.09" width="8.35" height="9.04" fill="#F73026"/>
<rect x="293.30" y="218.09" width="6.40" height="9.04" fill="#1FD3B0"/>
<text transform="translate(317.40 224.96) rotate(0.04)" font-size="7.74" >Pontibacter</text>
<rect x="300.00" y="226.53" width="8.95" height="9.04" fill="#2073BA"/>
<rect x="308.35" y="226.53" width="8.35" height="9.04" fill="#F73026"/>
<rect x="293.30" y="226.53" width="6.40" height="9.04" fill="#EBAA00"/>
<text transform="translate(317.40 233.40) rotate(0.04)" font-size="7.74" >Rhodohalobacter</text>
<rect x="300.00" y="234.97" width="8.95" height="9.04" fill="#2073BA"/>
<rect x="308.35" y="234.97" width="8.35" height="9.04" fill="#F73026"/>
<rect x="293.30" y="234.97" width="6.40" height="9.04" fill="#1FD3B0"/>
<text transform="translate(317.40 241.83) rotate(0.04)" font-size="7.74" >Nafulsella</text>
<rect x="300.00" y="243.40" width="8.95" height="9.04" fill="#2073BA"/>
<rect x="308.35" y="243.40" width="8.35" height="9.04" fill="#F73026"/>
<rect x="293.30" y="243.40" width="6.40" height="9.04" fill="#FA75EC"/>
<text transform="translate(317.40 250.27) rotate(0.04)" font-size="7.74" >Kocuria</text>
<rect x="300.00" y="251.84" width="8.95" height="9.04" fill="#2073BA"/>
<rect x="308.35" y="251.84" width="8.35" height="9.04" fill="#F73026"/>
<rect x="293.30" y="251.84" width="6.40" height="9.04" fill="#1FD3B0"/>
<text transform="translate(317.40 258.71) rotate(0.04)" font-size="7.74" >Salinimicrobium</text>
<rect x="300.00" y="260.28" width="8.95" height="9.04" fill="#2073BA"/>
<rect x="308.35" y="260.28" width="8.35" height="9.04" fill="#F73026"/>
<rect x="293.30" y="260.28" width="6.40" height="9.04" fill="#FA75EC"/>
<text transform="translate(317.40 267.15) rotate(0.04)" font-size="7.74" >Nocardioides</text>
<rect x="300.00" y="268.71" width="8.95" height="9.04" fill="#2073BA"/>
<rect x="308.35" y="268.71" width="8.35" height="9.04" fill="#F73026"/>
<rect x="293.30" y="268.71" width="6.40" height="9.04" fill="#C9A2FF"/>
<text transform="translate(317.40 275.58) rotate(0.04)" font-size="7.74" >Halofilum</text>
<rect x="300.00" y="277.15" width="8.95" height="9.04" fill="#2073BA"/>
<rect x="308.35" y="277.15" width="8.35" height="9.04" fill="#F73026"/>
<rect x="293.30" y="277.15" width="6.40" height="9.04" fill="#EBAA00"/>
<text transform="translate(317.40 284.02) rotate(0.04)" font-size="7.74" >Aliifodinibius</text>
<rect x="300.00" y="285.59" width="8.95" height="9.04" fill="#2073BA"/>
<rect x="308.35" y="285.59" width="8.35" height="9.04" fill="#F73026"/>
<rect x="293.30" y="285.59" width="6.40" height="9.04" fill="#00C8FF"/>
<text transform="translate(317.40 292.46) rotate(0.04)" font-size="7.74" >Gemmatimonas</text>
<rect x="300.00" y="294.03" width="8.95" height="9.04" fill="#2073BA"/>
<rect x="308.35" y="294.03" width="8.35" height="9.04" fill="#F73026"/>
<rect x="293.30" y="294.03" width="6.40" height="9.04" fill="#FA75EC"/>
<text transform="translate(317.40 300.89) rotate(0.04)" font-size="7.74" >Streptomyces</text>
<rect x="300.00" y="302.46" width="8.95" height="8.44" fill="#2073BA"/>
<rect x="308.35" y="302.46" width="8.35" height="8.44" fill="#F73026"/>
<rect x="293.30" y="302.46" width="6.40" height="8.44" fill="#FA75EC"/>
<text transform="translate(317.40 309.33) rotate(0.04)" font-size="7.74" >Nitriliruptor</text>
<path d="M300.00 24.04h16.70" stroke="#c9b796" stroke-opacity="0.3" stroke-width="0.5" fill="none"/>
<path d="M300.00 32.47h16.70" stroke="#c9b796" stroke-opacity="0.3" stroke-width="0.5" fill="none"/>
<path d="M300.00 40.91h16.70" stroke="#c9b796" stroke-opacity="0.3" stroke-width="0.5" fill="none"/>
<path d="M300.00 49.35h16.70" stroke="#c9b796" stroke-opacity="0.3" stroke-width="0.5" fill="none"/>
<path d="M300.00 57.79h16.70" stroke="#c9b796" stroke-opacity="0.3" stroke-width="0.5" fill="none"/>
<path d="M300.00 66.22h16.70" stroke="#c9b796" stroke-opacity="0.3" stroke-width="0.5" fill="none"/>
<path d="M300.00 74.66h16.70" stroke="#c9b796" stroke-opacity="0.3" stroke-width="0.5" fill="none"/>
<path d="M300.00 83.10h16.70" stroke="#c9b796" stroke-opacity="0.3" stroke-width="0.5" fill="none"/>
<path d="M300.00 91.53h16.70" stroke="#c9b796" stroke-opacity="0.3" stroke-width="0.5" fill="none"/>
<path d="M300.00 99.97h16.70" stroke="#c9b796" stroke-opacity="0.3" stroke-width="0.5" fill="none"/>
<path d="M300.00 108.41h16.70" stroke="#c9b796" stroke-opacity="0.3" stroke-width="0.5" fill="none"/>
<path d="M300.00 116.85h16.70" stroke="#c9b796" stroke-opacity="0.3" stroke-width="0.5" fill="none"/>
<path d="M300.00 125.28h16.70" stroke="#c9b796" stroke-opacity="0.3" stroke-width="0.5" fill="none"/>
<path d="M300.00 133.72h16.70" stroke="#c9b796" stroke-opacity="0.3" stroke-width="0.5" fill="none"/>
<path d="M300.00 142.16h16.70" stroke="#c9b796" stroke-opacity="0.3" stroke-width="0.5" fill="none"/>
<path d="M300.00 150.59h16.70" stroke="#c9b796" stroke-opacity="0.3" stroke-width="0.5" fill="none"/>
<path d="M300.00 159.03h16.70" stroke="#c9b796" stroke-opacity="0.3" stroke-width="0.5" fill="none"/>
<path d="M300.00 167.47h16.70" stroke="#c9b796" stroke-opacity="0.3" stroke-width="0.5" fill="none"/>
<path d="M300.00 175.91h16.70" stroke="#c9b796" stroke-opacity="0.3" stroke-width="0.5" fill="none"/>
<path d="M300.00 184.34h16.70" stroke="#c9b796" stroke-opacity="0.3" stroke-width="0.5" fill="none"/>
<path d="M300.00 192.78h16.70" stroke="#c9b796" stroke-opacity="0.3" stroke-width="0.5" fill="none"/>
<path d="M300.00 201.22h16.70" stroke="#c9b796" stroke-opacity="0.3" stroke-width="0.5" fill="none"/>
<path d="M300.00 209.65h16.70" stroke="#c9b796" stroke-opacity="0.3" stroke-width="0.5" fill="none"/>
<path d="M300.00 218.09h16.70" stroke="#c9b796" stroke-opacity="0.3" stroke-width="0.5" fill="none"/>
<path d="M300.00 226.53h16.70" stroke="#c9b796" stroke-opacity="0.3" stroke-width="0.5" fill="none"/>
<path d="M300.00 234.97h16.70" stroke="#c9b796" stroke-opacity="0.3" stroke-width="0.5" fill="none"/>
<path d="M300.00 243.40h16.70" stroke="#c9b796" stroke-opacity="0.3" stroke-width="0.5" fill="none"/>
<path d="M300.00 251.84h16.70" stroke="#c9b796" stroke-opacity="0.3" stroke-width="0.5" fill="none"/>
<path d="M300.00 260.28h16.70" stroke="#c9b796" stroke-opacity="0.3" stroke-width="0.5" fill="none"/>
<path d="M300.00 268.71h16.70" stroke="#c9b796" stroke-opacity="0.3" stroke-width="0.5" fill="none"/>
<path d="M300.00 277.15h16.70" stroke="#c9b796" stroke-opacity="0.3" stroke-width="0.5" fill="none"/>
<path d="M300.00 285.59h16.70" stroke="#c9b796" stroke-opacity="0.3" stroke-width="0.5" fill="none"/>
<path d="M300.00 294.03h16.70" stroke="#c9b796" stroke-opacity="0.3" stroke-width="0.5" fill="none"/>
<path d="M300.00 302.46h16.70" stroke="#c9b796" stroke-opacity="0.3" stroke-width="0.5" fill="none"/>
<text transform="translate(301.60 311.95) rotate(90)" font-size="7.66" >Hypersaline</text>
<text transform="translate(309.95 311.95) rotate(90)" font-size="7.66" >Saline</text>
<text transform="translate(294.00 311.95) rotate(90)" font-size="5.55" font-weight="bold">Phylum</text>
<path d="M277.90 68.60L293.30 68.60" stroke="#ececec" stroke-width="0.8" fill="none"/>
<path d="M277.90 68.20L277.90 253.80" stroke="#787878" stroke-width="0.8" fill="none"/>
<path d="M277.90 253.40L293.30 253.40" stroke="#787878" stroke-width="0.8" fill="none"/>
<path d="M293.00 17.60L293.00 308.90" stroke="#9a9a9a" stroke-width="0.7" fill="none"/>
<text transform="translate(424.00 10.20) rotate(0.04)" font-size="9.52" >Species</text>
<rect x="413.90" y="15.60" width="9.15" height="9.04" fill="#F73026"/>
<rect x="422.45" y="15.60" width="8.55" height="9.04" fill="#2073BA"/>
<rect x="407.20" y="15.60" width="5.80" height="9.04" fill="#61A8FF"/>
<text transform="translate(431.60 22.47) rotate(0.04)" font-size="7.74" >Halalkalicoccus jeotgali</text>
<rect x="413.90" y="24.04" width="9.15" height="9.04" fill="#F73026"/>
<rect x="422.45" y="24.04" width="8.55" height="9.04" fill="#2073BA"/>
<rect x="407.20" y="24.04" width="5.80" height="9.04" fill="#00D2D8"/>
<text transform="translate(431.60 30.91) rotate(0.04)" font-size="7.74" >Salinibacter ruber</text>
<rect x="413.90" y="32.47" width="9.15" height="9.04" fill="#F73026"/>
<rect x="422.45" y="32.47" width="8.55" height="9.04" fill="#2073BA"/>
<rect x="407.20" y="32.47" width="5.80" height="9.04" fill="#61A8FF"/>
<text transform="translate(431.60 39.34) rotate(0.04)" font-size="7.74" >Halalkalicoccus paucihalophilus</text>
<rect x="413.90" y="40.91" width="9.15" height="9.04" fill="#F73026"/>
<rect x="422.45" y="40.91" width="8.55" height="9.04" fill="#2073BA"/>
<rect x="407.20" y="40.91" width="5.80" height="9.04" fill="#61A8FF"/>
<text transform="translate(431.60 47.78) rotate(0.04)" font-size="7.74" >Halosimplex carlsbadense</text>
<rect x="413.90" y="49.35" width="9.15" height="9.04" fill="#F73026"/>
<rect x="422.45" y="49.35" width="8.55" height="9.04" fill="#2073BA"/>
<rect x="407.20" y="49.35" width="5.80" height="9.04" fill="#61A8FF"/>
<text transform="translate(431.60 56.22) rotate(0.04)" font-size="7.74" >Haloterrigena salina</text>
<rect x="413.90" y="57.79" width="9.15" height="9.04" fill="#F73026"/>
<rect x="422.45" y="57.79" width="8.55" height="9.04" fill="#2073BA"/>
<rect x="407.20" y="57.79" width="5.80" height="9.04" fill="#61A8FF"/>
<text transform="translate(431.60 64.65) rotate(0.04)" font-size="7.74" >Halopelagius longus</text>
<rect x="413.90" y="66.22" width="9.15" height="9.04" fill="#F73026"/>
<rect x="422.45" y="66.22" width="8.55" height="9.04" fill="#2073BA"/>
<rect x="407.20" y="66.22" width="5.80" height="9.04" fill="#61A8FF"/>
<text transform="translate(431.60 73.09) rotate(0.04)" font-size="7.74" >Halapricum salinum</text>
<rect x="413.90" y="74.66" width="9.15" height="9.04" fill="#F73026"/>
<rect x="422.45" y="74.66" width="8.55" height="9.04" fill="#2073BA"/>
<rect x="407.20" y="74.66" width="5.80" height="9.04" fill="#61A8FF"/>
<text transform="translate(431.60 81.53) rotate(0.04)" font-size="7.74" >Halorientalis sp. IM1011</text>
<rect x="413.90" y="83.10" width="9.15" height="9.04" fill="#F73026"/>
<rect x="422.45" y="83.10" width="8.55" height="9.04" fill="#2073BA"/>
<rect x="407.20" y="83.10" width="5.80" height="9.04" fill="#61A8FF"/>
<text transform="translate(431.60 89.97) rotate(0.04)" font-size="7.74" >Halobacterium sp. DL1</text>
<rect x="413.90" y="91.53" width="9.15" height="9.04" fill="#F73026"/>
<rect x="422.45" y="91.53" width="8.55" height="9.04" fill="#2073BA"/>
<rect x="407.20" y="91.53" width="5.80" height="9.04" fill="#61A8FF"/>
<text transform="translate(431.60 98.40) rotate(0.04)" font-size="7.74" >Halopiger xanaduensis</text>
<rect x="413.90" y="99.97" width="9.15" height="9.04" fill="#F73026"/>
<rect x="422.45" y="99.97" width="8.55" height="9.04" fill="#2073BA"/>
<rect x="407.20" y="99.97" width="5.80" height="9.04" fill="#61A8FF"/>
<text transform="translate(431.60 106.84) rotate(0.04)" font-size="7.74" >Natronomonas pharaonis</text>
<rect x="413.90" y="108.41" width="9.15" height="9.04" fill="#F73026"/>
<rect x="422.45" y="108.41" width="8.55" height="9.04" fill="#2073BA"/>
<rect x="407.20" y="108.41" width="5.80" height="9.04" fill="#61A8FF"/>
<text transform="translate(431.60 115.28) rotate(0.04)" font-size="7.74" >Haloarchaeobius iranensis</text>
<rect x="413.90" y="116.85" width="9.15" height="9.04" fill="#F73026"/>
<rect x="422.45" y="116.85" width="8.55" height="9.04" fill="#2073BA"/>
<rect x="407.20" y="116.85" width="5.80" height="9.04" fill="#61A8FF"/>
<text transform="translate(431.60 123.71) rotate(0.04)" font-size="7.74" >Natronomonas sp. CBA1134</text>
<rect x="413.90" y="125.28" width="9.15" height="9.04" fill="#F73026"/>
<rect x="422.45" y="125.28" width="8.55" height="9.04" fill="#2073BA"/>
<rect x="407.20" y="125.28" width="5.80" height="9.04" fill="#61A8FF"/>
<text transform="translate(431.60 132.15) rotate(0.04)" font-size="7.74" >Natronoarchaeum philippinense</text>
<rect x="413.90" y="133.72" width="9.15" height="9.04" fill="#F73026"/>
<rect x="422.45" y="133.72" width="8.55" height="9.04" fill="#2073BA"/>
<rect x="407.20" y="133.72" width="5.80" height="9.04" fill="#61A8FF"/>
<text transform="translate(431.60 140.59) rotate(0.04)" font-size="7.74" >Haladaptatus litoreus</text>
<rect x="413.90" y="142.16" width="9.15" height="9.04" fill="#F73026"/>
<rect x="422.45" y="142.16" width="8.55" height="9.04" fill="#2073BA"/>
<rect x="407.20" y="142.16" width="5.80" height="9.04" fill="#FA75EC"/>
<text transform="translate(431.60 149.03) rotate(0.04)" font-size="7.74" >Lawsonella clevelandensis</text>
<rect x="413.90" y="150.59" width="9.15" height="9.04" fill="#F73026"/>
<rect x="422.45" y="150.59" width="8.55" height="9.04" fill="#2073BA"/>
<rect x="407.20" y="150.59" width="5.80" height="9.04" fill="#61A8FF"/>
<text transform="translate(431.60 157.46) rotate(0.04)" font-size="7.74" >Halogranum amylolyticum</text>
<rect x="413.90" y="159.03" width="9.15" height="9.04" fill="#F73026"/>
<rect x="422.45" y="159.03" width="8.55" height="9.04" fill="#2073BA"/>
<rect x="407.20" y="159.03" width="5.80" height="9.04" fill="#61A8FF"/>
<text transform="translate(431.60 165.90) rotate(0.04)" font-size="7.74" >Halomicrobium zhouii</text>
<rect x="413.90" y="167.47" width="9.15" height="9.04" fill="#F73026"/>
<rect x="422.45" y="167.47" width="8.55" height="9.04" fill="#2073BA"/>
<rect x="407.20" y="167.47" width="5.80" height="9.04" fill="#61A8FF"/>
<text transform="translate(431.60 174.34) rotate(0.04)" font-size="7.74" >Salinarchaeum sp. Harcht−Bsk1</text>
<rect x="413.90" y="175.91" width="9.15" height="9.04" fill="#F73026"/>
<rect x="422.45" y="175.91" width="8.55" height="9.04" fill="#2073BA"/>
<rect x="407.20" y="175.91" width="5.80" height="9.04" fill="#61A8FF"/>
<text transform="translate(431.60 182.77) rotate(0.04)" font-size="7.74" >Haloterrigena turkmenica</text>
<rect x="413.90" y="184.34" width="9.15" height="9.04" fill="#F73026"/>
<rect x="422.45" y="184.34" width="8.55" height="9.04" fill="#2073BA"/>
<rect x="407.20" y="184.34" width="5.80" height="9.04" fill="#61A8FF"/>
<text transform="translate(431.60 191.21) rotate(0.04)" font-size="7.74" >Natronomonas moolapensis</text>
<rect x="413.90" y="192.78" width="9.15" height="9.04" fill="#F73026"/>
<rect x="422.45" y="192.78" width="8.55" height="9.04" fill="#2073BA"/>
<rect x="407.20" y="192.78" width="5.80" height="9.04" fill="#61A8FF"/>
<text transform="translate(431.60 199.65) rotate(0.04)" font-size="7.74" >Halorientalis persicus</text>
<rect x="413.90" y="201.22" width="9.15" height="9.04" fill="#F73026"/>
<rect x="422.45" y="201.22" width="8.55" height="9.04" fill="#2073BA"/>
<rect x="407.20" y="201.22" width="5.80" height="9.04" fill="#61A8FF"/>
<text transform="translate(431.60 208.09) rotate(0.04)" font-size="7.74" >Halopiger salifodinae</text>
<rect x="413.90" y="209.65" width="9.15" height="9.04" fill="#2073BA"/>
<rect x="422.45" y="209.65" width="8.55" height="9.04" fill="#F73026"/>
<rect x="407.20" y="209.65" width="5.80" height="9.04" fill="#FA8E85"/>
<text transform="translate(431.60 216.52) rotate(0.04)" font-size="7.74" >Aliifodinibius roseus</text>
<rect x="413.90" y="218.09" width="9.15" height="9.04" fill="#2073BA"/>
<rect x="422.45" y="218.09" width="8.55" height="9.04" fill="#F73026"/>
<rect x="407.20" y="218.09" width="5.80" height="9.04" fill="#D9B000"/>
<text transform="translate(431.60 224.96) rotate(0.04)" font-size="7.74" >Gemmatimonas sp. SG8_23</text>
<rect x="413.90" y="226.53" width="9.15" height="9.04" fill="#2073BA"/>
<rect x="422.45" y="226.53" width="8.55" height="9.04" fill="#F73026"/>
<rect x="407.20" y="226.53" width="5.80" height="9.04" fill="#00D2D8"/>
<text transform="translate(431.60 233.40) rotate(0.04)" font-size="7.74" >Salinimicrobium xinjiangense</text>
<rect x="413.90" y="234.97" width="9.15" height="9.04" fill="#2073BA"/>
<rect x="422.45" y="234.97" width="8.55" height="9.04" fill="#F73026"/>
<rect x="407.20" y="234.97" width="5.80" height="9.04" fill="#FA8E85"/>
<text transform="translate(431.60 241.83) rotate(0.04)" font-size="7.74" >Rhodohalobacter halophilus</text>
<rect x="413.90" y="243.40" width="9.15" height="9.04" fill="#2073BA"/>
<rect x="422.45" y="243.40" width="8.55" height="9.04" fill="#F73026"/>
<rect x="407.20" y="243.40" width="5.80" height="9.04" fill="#00D2D8"/>
<text transform="translate(431.60 250.27) rotate(0.04)" font-size="7.74" >Gillisia limnaea</text>
<rect x="413.90" y="251.84" width="9.15" height="9.04" fill="#2073BA"/>
<rect x="422.45" y="251.84" width="8.55" height="9.04" fill="#F73026"/>
<rect x="407.20" y="251.84" width="5.80" height="9.04" fill="#00D2D8"/>
<text transform="translate(431.60 258.71) rotate(0.04)" font-size="7.74" >Salinimicrobium sediminis</text>
<rect x="413.90" y="260.28" width="9.15" height="9.04" fill="#2073BA"/>
<rect x="422.45" y="260.28" width="8.55" height="9.04" fill="#F73026"/>
<rect x="407.20" y="260.28" width="5.80" height="9.04" fill="#00D2D8"/>
<text transform="translate(431.60 267.15) rotate(0.04)" font-size="7.74" >Nafulsella turpanensis</text>
<rect x="413.90" y="268.71" width="9.15" height="9.04" fill="#2073BA"/>
<rect x="422.45" y="268.71" width="8.55" height="9.04" fill="#F73026"/>
<rect x="407.20" y="268.71" width="5.80" height="9.04" fill="#00D2D8"/>
<text transform="translate(431.60 275.58) rotate(0.04)" font-size="7.74" >Flammeovirgaceae bacterium 311</text>
<rect x="413.90" y="277.15" width="9.15" height="9.04" fill="#2073BA"/>
<rect x="422.45" y="277.15" width="8.55" height="9.04" fill="#F73026"/>
<rect x="407.20" y="277.15" width="5.80" height="9.04" fill="#1FCF5F"/>
<text transform="translate(431.60 284.02) rotate(0.04)" font-size="7.74" >Halofilum ochraceum</text>
<rect x="413.90" y="285.59" width="9.15" height="9.04" fill="#2073BA"/>
<rect x="422.45" y="285.59" width="8.55" height="9.04" fill="#F73026"/>
<rect x="407.20" y="285.59" width="5.80" height="9.04" fill="#1FCF5F"/>
<text transform="translate(431.60 292.46) rotate(0.04)" font-size="7.74" >Wenzhouxiangella marina</text>
<rect x="413.90" y="294.03" width="9.15" height="9.04" fill="#2073BA"/>
<rect x="422.45" y="294.03" width="8.55" height="9.04" fill="#F73026"/>
<rect x="407.20" y="294.03" width="5.80" height="9.04" fill="#FA75EC"/>
<text transform="translate(431.60 300.89) rotate(0.04)" font-size="7.74" >Nitriliruptor alkaliphilus</text>
<rect x="413.90" y="302.46" width="9.15" height="8.44" fill="#2073BA"/>
<rect x="422.45" y="302.46" width="8.55" height="8.44" fill="#F73026"/>
<rect x="407.20" y="302.46" width="5.80" height="8.44" fill="#FA8E85"/>
<text transform="translate(431.60 309.33) rotate(0.04)" font-size="7.74" >Aliifodinibius sp. WN023</text>
<path d="M413.90 24.04h17.10" stroke="#c9b796" stroke-opacity="0.3" stroke-width="0.5" fill="none"/>
<path d="M413.90 32.47h17.10" stroke="#c9b796" stroke-opacity="0.3" stroke-width="0.5" fill="none"/>
<path d="M413.90 40.91h17.10" stroke="#c9b796" stroke-opacity="0.3" stroke-width="0.5" fill="none"/>
<path d="M413.90 49.35h17.10" stroke="#c9b796" stroke-opacity="0.3" stroke-width="0.5" fill="none"/>
<path d="M413.90 57.79h17.10" stroke="#c9b796" stroke-opacity="0.3" stroke-width="0.5" fill="none"/>
<path d="M413.90 66.22h17.10" stroke="#c9b796" stroke-opacity="0.3" stroke-width="0.5" fill="none"/>
<path d="M413.90 74.66h17.10" stroke="#c9b796" stroke-opacity="0.3" stroke-width="0.5" fill="none"/>
<path d="M413.90 83.10h17.10" stroke="#c9b796" stroke-opacity="0.3" stroke-width="0.5" fill="none"/>
<path d="M413.90 91.53h17.10" stroke="#c9b796" stroke-opacity="0.3" stroke-width="0.5" fill="none"/>
<path d="M413.90 99.97h17.10" stroke="#c9b796" stroke-opacity="0.3" stroke-width="0.5" fill="none"/>
<path d="M413.90 108.41h17.10" stroke="#c9b796" stroke-opacity="0.3" stroke-width="0.5" fill="none"/>
<path d="M413.90 116.85h17.10" stroke="#c9b796" stroke-opacity="0.3" stroke-width="0.5" fill="none"/>
<path d="M413.90 125.28h17.10" stroke="#c9b796" stroke-opacity="0.3" stroke-width="0.5" fill="none"/>
<path d="M413.90 133.72h17.10" stroke="#c9b796" stroke-opacity="0.3" stroke-width="0.5" fill="none"/>
<path d="M413.90 142.16h17.10" stroke="#c9b796" stroke-opacity="0.3" stroke-width="0.5" fill="none"/>
<path d="M413.90 150.59h17.10" stroke="#c9b796" stroke-opacity="0.3" stroke-width="0.5" fill="none"/>
<path d="M413.90 159.03h17.10" stroke="#c9b796" stroke-opacity="0.3" stroke-width="0.5" fill="none"/>
<path d="M413.90 167.47h17.10" stroke="#c9b796" stroke-opacity="0.3" stroke-width="0.5" fill="none"/>
<path d="M413.90 175.91h17.10" stroke="#c9b796" stroke-opacity="0.3" stroke-width="0.5" fill="none"/>
<path d="M413.90 184.34h17.10" stroke="#c9b796" stroke-opacity="0.3" stroke-width="0.5" fill="none"/>
<path d="M413.90 192.78h17.10" stroke="#c9b796" stroke-opacity="0.3" stroke-width="0.5" fill="none"/>
<path d="M413.90 201.22h17.10" stroke="#c9b796" stroke-opacity="0.3" stroke-width="0.5" fill="none"/>
<path d="M413.90 209.65h17.10" stroke="#c9b796" stroke-opacity="0.3" stroke-width="0.5" fill="none"/>
<path d="M413.90 218.09h17.10" stroke="#c9b796" stroke-opacity="0.3" stroke-width="0.5" fill="none"/>
<path d="M413.90 226.53h17.10" stroke="#c9b796" stroke-opacity="0.3" stroke-width="0.5" fill="none"/>
<path d="M413.90 234.97h17.10" stroke="#c9b796" stroke-opacity="0.3" stroke-width="0.5" fill="none"/>
<path d="M413.90 243.40h17.10" stroke="#c9b796" stroke-opacity="0.3" stroke-width="0.5" fill="none"/>
<path d="M413.90 251.84h17.10" stroke="#c9b796" stroke-opacity="0.3" stroke-width="0.5" fill="none"/>
<path d="M413.90 260.28h17.10" stroke="#c9b796" stroke-opacity="0.3" stroke-width="0.5" fill="none"/>
<path d="M413.90 268.71h17.10" stroke="#c9b796" stroke-opacity="0.3" stroke-width="0.5" fill="none"/>
<path d="M413.90 277.15h17.10" stroke="#c9b796" stroke-opacity="0.3" stroke-width="0.5" fill="none"/>
<path d="M413.90 285.59h17.10" stroke="#c9b796" stroke-opacity="0.3" stroke-width="0.5" fill="none"/>
<path d="M413.90 294.03h17.10" stroke="#c9b796" stroke-opacity="0.3" stroke-width="0.5" fill="none"/>
<path d="M413.90 302.46h17.10" stroke="#c9b796" stroke-opacity="0.3" stroke-width="0.5" fill="none"/>
<text transform="translate(415.50 311.95) rotate(90)" font-size="7.66" >Hypersaline</text>
<text transform="translate(424.05 311.95) rotate(90)" font-size="7.66" >Saline</text>
<text transform="translate(407.90 311.95) rotate(90)" font-size="5.55" font-weight="bold">Phylum</text>
<path d="M392.90 51.80L407.20 51.80" stroke="#e6e6e6" stroke-width="0.8" fill="none"/>
<path d="M392.90 51.40L392.90 241.90" stroke="#787878" stroke-width="0.8" fill="none"/>
<path d="M392.90 241.50L407.20 241.50" stroke="#787878" stroke-width="0.8" fill="none"/>
<path d="M406.90 17.60L406.90 308.90" stroke="#9a9a9a" stroke-width="0.7" fill="none"/>
<text transform="translate(161.60 370.50) rotate(0.04)" font-size="8.62" >Phylum</text>
<rect x="161.60" y="374.00" width="12.30" height="12.18" fill="#F870E5"/>
<text transform="translate(176.50 383.06) rotate(0.04)" font-size="8.47" >Actinobacteria</text>
<rect x="161.60" y="386.13" width="12.30" height="12.18" fill="#00CFD6"/>
<text transform="translate(176.50 395.19) rotate(0.04)" font-size="8.47" >Bacteroidetes</text>
<rect x="161.60" y="398.26" width="12.30" height="12.18" fill="#FFA800"/>
<text transform="translate(176.50 407.32) rotate(0.04)" font-size="8.47" >Balneolaeota</text>
<rect x="161.60" y="410.39" width="12.30" height="12.18" fill="#00BBF5"/>
<text transform="translate(176.50 419.45) rotate(0.04)" font-size="8.47" >Euryarchaeota</text>
<rect x="161.60" y="422.52" width="12.30" height="12.18" fill="#00CC7A"/>
<text transform="translate(176.50 431.58) rotate(0.04)" font-size="8.47" >Firmicutes</text>
<rect x="161.60" y="434.65" width="12.30" height="12.18" fill="#72BC08"/>
<text transform="translate(176.50 443.71) rotate(0.04)" font-size="8.47" >Gemmatimonadetes</text>
<rect x="161.60" y="446.78" width="12.30" height="12.18" fill="#FA8E85"/>
<text transform="translate(176.50 455.84) rotate(0.04)" font-size="8.47" >Planctomycetes</text>
<rect x="161.60" y="458.91" width="12.30" height="12.18" fill="#F192F5"/>
<text transform="translate(176.50 467.98) rotate(0.04)" font-size="8.47" >Proteobacteria</text>
<text transform="translate(295.30 370.70) rotate(0.04)" font-size="8.62" >Phylum</text>
<rect x="295.30" y="374.20" width="12.70" height="12.22" fill="#FA75EC"/>
<text transform="translate(310.40 383.28) rotate(0.04)" font-size="8.47" >Actinobacteria</text>
<rect x="295.30" y="386.37" width="12.70" height="12.22" fill="#1FD3B0"/>
<text transform="translate(310.40 395.45) rotate(0.04)" font-size="8.47" >Bacteroidetes</text>
<rect x="295.30" y="398.54" width="12.70" height="12.22" fill="#EBAA00"/>
<text transform="translate(310.40 407.62) rotate(0.04)" font-size="8.47" >Balneolaeota</text>
<rect x="295.30" y="410.71" width="12.70" height="12.22" fill="#FE9A93"/>
<text transform="translate(310.40 419.79) rotate(0.04)" font-size="8.47" >Euryarchaeota</text>
<rect x="295.30" y="422.88" width="12.70" height="12.22" fill="#14CB1A"/>
<text transform="translate(310.40 431.96) rotate(0.04)" font-size="8.47" >Firmicutes</text>
<rect x="295.30" y="435.05" width="12.70" height="12.22" fill="#00C8FF"/>
<text transform="translate(310.40 444.13) rotate(0.04)" font-size="8.47" >Gemmatimonadetes</text>
<rect x="295.30" y="447.22" width="12.70" height="12.22" fill="#C9A2FF"/>
<text transform="translate(310.40 456.30) rotate(0.04)" font-size="8.47" >Proteobacteria</text>
<text transform="translate(408.20 370.50) rotate(0.04)" font-size="8.62" >Phylum</text>
<rect x="408.20" y="374.00" width="12.80" height="12.18" fill="#FA75EC"/>
<text transform="translate(423.20 383.06) rotate(0.04)" font-size="8.47" >Actinobacteria</text>
<rect x="408.20" y="386.13" width="12.80" height="12.18" fill="#00D2D8"/>
<text transform="translate(423.20 395.19) rotate(0.04)" font-size="8.47" >Bacteroidetes</text>
<rect x="408.20" y="398.26" width="12.80" height="12.18" fill="#FA8E85"/>
<text transform="translate(423.20 407.32) rotate(0.04)" font-size="8.47" >Balneolaeota</text>
<rect x="408.20" y="410.39" width="12.80" height="12.18" fill="#61A8FF"/>
<text transform="translate(423.20 419.45) rotate(0.04)" font-size="8.47" >Euryarchaeota</text>
<rect x="408.20" y="422.52" width="12.80" height="12.18" fill="#D9B000"/>
<text transform="translate(423.20 431.58) rotate(0.04)" font-size="8.47" >Gemmatimonadetes</text>
<rect x="408.20" y="434.65" width="12.80" height="12.18" fill="#1FCF5F"/>
<text transform="translate(423.20 443.71) rotate(0.04)" font-size="8.47" >Proteobacteria</text>
<rect x="44.3" y="367.1" width="6.4" height="100.6" fill="url(#g)"/>
<text transform="translate(53.60 379.95) rotate(0.04)" font-size="13.5" >0.6</text>
<text transform="translate(53.60 394.28) rotate(0.04)" font-size="13.5" >0.4</text>
<text transform="translate(53.60 408.61) rotate(0.04)" font-size="13.5" >0.2</text>
<text transform="translate(53.60 422.94) rotate(0.04)" font-size="13.5" >0</text>
<text transform="translate(53.60 437.27) rotate(0.04)" font-size="13.5" >−0.2</text>
<text transform="translate(53.60 451.60) rotate(0.04)" font-size="13.5" >−0.4</text>
<text transform="translate(53.60 465.93) rotate(0.04)" font-size="13.5" >−0.6</text>
</svg>
</body></html>
